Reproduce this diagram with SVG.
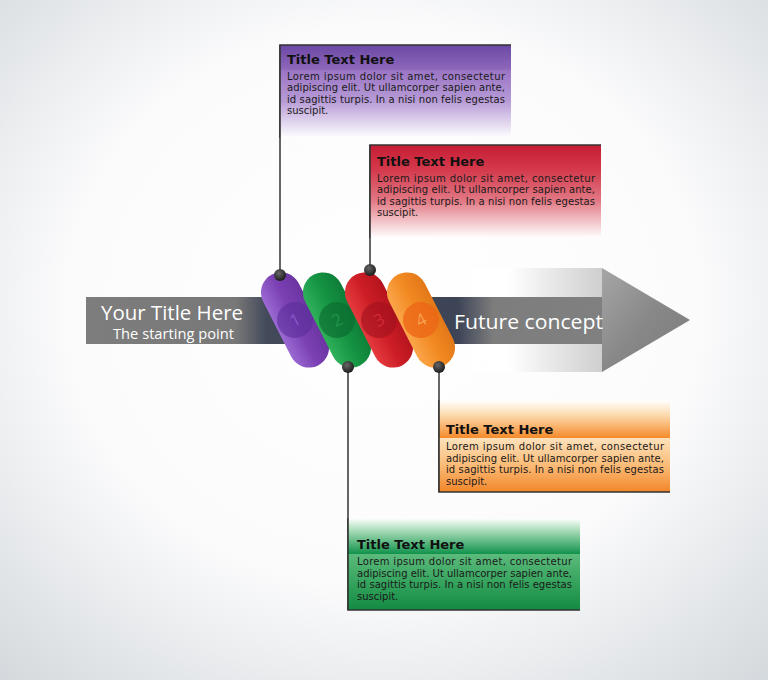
<svg xmlns="http://www.w3.org/2000/svg" width="768" height="680" viewBox="0 0 768 680">
<defs>
<radialGradient id="bg" cx="0.5" cy="0.45" r="0.75">
<stop offset="0" stop-color="#ffffff"/>
<stop offset="0.55" stop-color="#fbfbfc"/>
<stop offset="1" stop-color="#d3d8dc"/>
</radialGradient>
<linearGradient id="shaft" x1="0" y1="0" x2="1" y2="0">
<stop offset="0" stop-color="#7d7d7d"/>
<stop offset="0.29" stop-color="#787878"/>
<stop offset="0.35" stop-color="#424a5a"/>
<stop offset="0.72" stop-color="#3c4456"/>
<stop offset="0.79" stop-color="#7d7d7d"/>
<stop offset="1" stop-color="#808080"/>
</linearGradient>
<linearGradient id="fade" x1="0" y1="0" x2="1" y2="0">
<stop offset="0" stop-color="#ffffff" stop-opacity="0"/>
<stop offset="0.45" stop-color="#ffffff" stop-opacity="1"/>
<stop offset="1" stop-color="#cfcfcf"/>
</linearGradient>
<linearGradient id="head" x1="0" y1="0" x2="1" y2="1">
<stop offset="0" stop-color="#a6a6a6"/>
<stop offset="0.5" stop-color="#888888"/>
<stop offset="1" stop-color="#7a7a7a"/>
</linearGradient>
<linearGradient id="pPurple" x1="0" y1="0" x2="1" y2="0">
<stop offset="0" stop-color="#9a6ad2"/><stop offset="0.5" stop-color="#7b40b4"/><stop offset="1" stop-color="#6a34a0"/>
</linearGradient>
<linearGradient id="pGreen" x1="0" y1="0" x2="1" y2="0">
<stop offset="0" stop-color="#2fb05a"/><stop offset="0.5" stop-color="#159443"/><stop offset="1" stop-color="#0e7e38"/>
</linearGradient>
<linearGradient id="pRed" x1="0" y1="0" x2="1" y2="0">
<stop offset="0" stop-color="#e53a3e"/><stop offset="0.5" stop-color="#cc1d26"/><stop offset="1" stop-color="#b4141e"/>
</linearGradient>
<linearGradient id="pOrange" x1="0" y1="0" x2="1" y2="0">
<stop offset="0" stop-color="#fba64a"/><stop offset="0.5" stop-color="#f28a22"/><stop offset="1" stop-color="#e27818"/>
</linearGradient>
<linearGradient id="tPurple" x1="0" y1="0" x2="0" y2="1">
<stop offset="0" stop-color="#6a48a4"/><stop offset="1" stop-color="#9068bc"/>
</linearGradient>
<linearGradient id="bPurple" x1="0" y1="0" x2="0" y2="1">
<stop offset="0" stop-color="#9a74c4"/><stop offset="0.45" stop-color="#b69ad6"/><stop offset="1" stop-color="#ffffff"/>
</linearGradient>
<linearGradient id="tRed" x1="0" y1="0" x2="0" y2="1">
<stop offset="0" stop-color="#c41c34"/><stop offset="1" stop-color="#d63a4c"/>
</linearGradient>
<linearGradient id="bRed" x1="0" y1="0" x2="0" y2="1">
<stop offset="0" stop-color="#d23a4c"/><stop offset="0.45" stop-color="#e27884"/><stop offset="1" stop-color="#ffffff"/>
</linearGradient>
<linearGradient id="tOrange" x1="0" y1="0" x2="0" y2="1">
<stop offset="0" stop-color="#ffffff"/><stop offset="0.35" stop-color="#fde0b8"/><stop offset="1" stop-color="#f48a2a"/>
</linearGradient>
<linearGradient id="bOrange" x1="0" y1="0" x2="0" y2="1">
<stop offset="0" stop-color="#fde2bc"/><stop offset="0.5" stop-color="#fbbc78"/><stop offset="1" stop-color="#f2862a"/>
</linearGradient>
<linearGradient id="tGreen" x1="0" y1="0" x2="0" y2="1">
<stop offset="0" stop-color="#ffffff"/><stop offset="0.35" stop-color="#a8dcb8"/><stop offset="1" stop-color="#10924a"/>
</linearGradient>
<linearGradient id="bGreen" x1="0" y1="0" x2="0" y2="1">
<stop offset="0" stop-color="#5cba7c"/><stop offset="0.5" stop-color="#36a45e"/><stop offset="1" stop-color="#128a42"/>
</linearGradient>
<radialGradient id="dot" cx="0.4" cy="0.35" r="0.6">
<stop offset="0" stop-color="#666"/><stop offset="1" stop-color="#222"/>
</radialGradient>
</defs>
<style>
.title{font-family:"DejaVu Sans",Verdana,sans-serif;font-weight:bold;font-size:13px;fill:#111}
.body{font-family:"DejaVu Sans",Verdana,sans-serif;font-size:10px;fill:#1a1a1a}
.big{font-family:"Open Sans","Liberation Sans",sans-serif;fill:#ffffff}
.num{font-family:"Open Sans","Liberation Sans",sans-serif;font-size:17px;text-anchor:middle}
.conn{stroke:#333;stroke-width:1.5;fill:none}
.border{stroke:#333;stroke-width:1.6;fill:none}
</style>
<rect width="768" height="680" fill="url(#bg)"/>

<g id="arrow">
<rect x="430" y="268" width="172" height="104" fill="url(#fade)"/>
<rect x="86" y="297" width="516" height="47" fill="url(#shaft)"/>
<polygon points="602,268 690,320 602,372" fill="url(#head)"/>
<text class="big" x="101" y="320" font-size="20" textLength="142" lengthAdjust="spacingAndGlyphs">Your Title Here</text>
<text class="big" x="113" y="339" font-size="14" textLength="121" lengthAdjust="spacingAndGlyphs">The starting point</text>
<text class="big" x="454" y="329" font-size="20" textLength="149" lengthAdjust="spacingAndGlyphs">Future concept</text>
</g>

<g id="connectors">
<line class="conn" x1="280" y1="45" x2="280" y2="275"/>
<line class="conn" x1="370" y1="145" x2="370" y2="270"/>
<line class="conn" x1="348" y1="367" x2="348" y2="610"/>
<line class="conn" x1="439" y1="367" x2="439" y2="492"/>
</g>

<g id="pill1" transform="translate(295,320) rotate(-27)">
<rect x="-20" y="-51" width="40" height="102" rx="20" fill="url(#pPurple)"/>
<circle r="18" fill="#5a2f9a" opacity="0.6"/>
<text class="num" y="6" fill="#8458c8">1</text>
</g>
<g id="pill2" transform="translate(337,320) rotate(-27)">
<rect x="-20" y="-51" width="40" height="102" rx="20" fill="url(#pGreen)"/>
<circle r="18" fill="#0a6a30" opacity="0.65"/>
<text class="num" y="6" fill="#22944c">2</text>
</g>
<g id="pill3" transform="translate(379,320) rotate(-27)">
<rect x="-20" y="-51" width="40" height="102" rx="20" fill="url(#pRed)"/>
<circle r="18" fill="#a0101c" opacity="0.6"/>
<text class="num" y="6" fill="#d02a36">3</text>
</g>
<g id="pill4" transform="translate(421,320) rotate(-27)">
<rect x="-20" y="-51" width="40" height="102" rx="20" fill="url(#pOrange)"/>
<circle r="18" fill="#ec6416" opacity="0.75"/>
<text class="num" y="6" fill="#f8a050">4</text>
</g>

<g id="dots">
<circle cx="280" cy="275" r="6" fill="url(#dot)"/>
<circle cx="370" cy="270" r="6" fill="url(#dot)"/>
<circle cx="348" cy="367" r="6" fill="url(#dot)"/>
<circle cx="439" cy="367" r="6" fill="url(#dot)"/>
</g>

<g id="box1">
<rect x="280" y="70" width="231" height="68" fill="url(#bPurple)"/>
<rect x="280" y="45" width="231" height="25" fill="url(#tPurple)"/>
<polyline class="border" points="280,138 280,45 511,45"/>
<text class="title" x="287" y="64">Title Text Here</text>
<text class="body" x="287" y="79.5" textLength="218" lengthAdjust="spacing">Lorem ipsum dolor sit amet, consectetur</text>
<text class="body" x="287" y="91" textLength="218" lengthAdjust="spacing">adipiscing elit. Ut ullamcorper sapien ante,</text>
<text class="body" x="287" y="102.5" textLength="218" lengthAdjust="spacing">id sagittis turpis. In a nisi non felis egestas</text>
<text class="body" x="287" y="114">suscipit.</text>
</g>

<g id="box2">
<rect x="370" y="170" width="231" height="68" fill="url(#bRed)"/>
<rect x="370" y="145" width="231" height="25" fill="url(#tRed)"/>
<polyline class="border" points="370,238 370,145 601,145"/>
<text class="title" x="377" y="166">Title Text Here</text>
<text class="body" x="377" y="181.5" textLength="218" lengthAdjust="spacing">Lorem ipsum dolor sit amet, consectetur</text>
<text class="body" x="377" y="193" textLength="218" lengthAdjust="spacing">adipiscing elit. Ut ullamcorper sapien ante,</text>
<text class="body" x="377" y="204.5" textLength="218" lengthAdjust="spacing">id sagittis turpis. In a nisi non felis egestas</text>
<text class="body" x="377" y="216">suscipit.</text>
</g>

<g id="box3">
<rect x="439" y="400" width="231" height="38" fill="url(#tOrange)"/>
<rect x="439" y="438" width="231" height="54" fill="url(#bOrange)"/>
<polyline class="border" points="439,400 439,492 670,492"/>
<text class="title" x="446" y="434">Title Text Here</text>
<text class="body" x="446" y="450" textLength="218" lengthAdjust="spacing">Lorem ipsum dolor sit amet, consectetur</text>
<text class="body" x="446" y="461.5" textLength="218" lengthAdjust="spacing">adipiscing elit. Ut ullamcorper sapien ante,</text>
<text class="body" x="446" y="473" textLength="218" lengthAdjust="spacing">id sagittis turpis. In a nisi non felis egestas</text>
<text class="body" x="446" y="484.5">suscipit.</text>
</g>

<g id="box4">
<rect x="348" y="518" width="232" height="36" fill="url(#tGreen)"/>
<rect x="348" y="554" width="232" height="56" fill="url(#bGreen)"/>
<polyline class="border" points="348,518 348,610 580,610"/>
<text class="title" x="357" y="549">Title Text Here</text>
<text class="body" x="357" y="565" textLength="215" lengthAdjust="spacing">Lorem ipsum dolor sit amet, consectetur</text>
<text class="body" x="357" y="576.5" textLength="215" lengthAdjust="spacing">adipiscing elit. Ut ullamcorper sapien ante,</text>
<text class="body" x="357" y="588" textLength="215" lengthAdjust="spacing">id sagittis turpis. In a nisi non felis egestas</text>
<text class="body" x="357" y="599.5">suscipit.</text>
</g>
</svg>
